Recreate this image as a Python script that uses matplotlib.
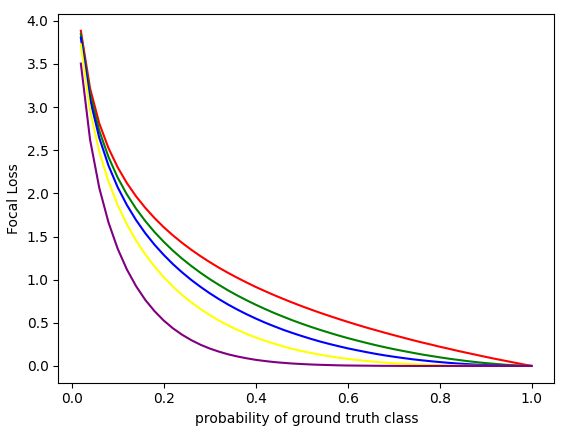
import matplotlib
matplotlib.use('Agg')
import matplotlib.pyplot as plt

# probability of ground truth class (0.02 .. 1.00)
P = [0.02, 0.04, 0.06, 0.08, 0.10, 0.12, 0.14, 0.16, 0.18, 0.20,
     0.22, 0.24, 0.26, 0.28, 0.30, 0.32, 0.34, 0.36, 0.38, 0.40,
     0.42, 0.44, 0.46, 0.48, 0.50, 0.52, 0.54, 0.56, 0.58, 0.60,
     0.62, 0.64, 0.66, 0.68, 0.70, 0.72, 0.74, 0.76, 0.78, 0.80,
     0.82, 0.84, 0.86, 0.88, 0.90, 0.92, 0.94, 0.96, 0.98, 1.00]

# loss curves
RED = [3.885, 3.219, 2.813, 2.526, 2.303, 2.120, 1.966, 1.833, 1.715, 1.609,
       1.514, 1.427, 1.347, 1.273, 1.204, 1.139, 1.079, 1.022, 0.968, 0.916,
       0.868, 0.821, 0.777, 0.734, 0.693, 0.654, 0.616, 0.580, 0.545, 0.511,
       0.478, 0.446, 0.416, 0.386, 0.357, 0.329, 0.301, 0.274, 0.249, 0.223,
       0.199, 0.174, 0.151, 0.128, 0.105, 0.083, 0.062, 0.041, 0.020, 0.0]

GREEN = [3.845, 3.154, 2.728, 2.423, 2.184, 1.989, 1.823, 1.680, 1.553, 1.440,
         1.337, 1.244, 1.159, 1.080, 1.007, 0.940, 0.876, 0.817, 0.762, 0.710,
         0.661, 0.614, 0.571, 0.529, 0.490, 0.453, 0.418, 0.385, 0.353, 0.323,
         0.295, 0.268, 0.242, 0.218, 0.195, 0.174, 0.154, 0.134, 0.117, 0.100,
         0.084, 0.070, 0.056, 0.044, 0.033, 0.024, 0.015, 0.008, 0.003, 0.0]

BLUE = [3.805, 3.090, 2.645, 2.324, 2.072, 1.866, 1.691, 1.539, 1.406, 1.288,
        1.181, 1.085, 0.997, 0.917, 0.843, 0.775, 0.712, 0.654, 0.600, 0.550,
        0.503, 0.460, 0.419, 0.382, 0.347, 0.314, 0.283, 0.255, 0.229, 0.204,
        0.182, 0.161, 0.141, 0.123, 0.107, 0.092, 0.078, 0.066, 0.055, 0.045,
        0.036, 0.028, 0.021, 0.015, 0.011, 0.007, 0.004, 0.002, 0.0004, 0.0]

YELLOW = [3.727, 2.966, 2.486, 2.138, 1.865, 1.642, 1.454, 1.293, 1.153, 1.030,
          0.921, 0.822, 0.738, 0.660, 0.590, 0.527, 0.470, 0.419, 0.372, 0.330,
          0.292, 0.258, 0.226, 0.198, 0.173, 0.151, 0.130, 0.112, 0.096, 0.082,
          0.069, 0.058, 0.048, 0.039, 0.032, 0.026, 0.020, 0.016, 0.012, 0.009,
          0.006, 0.004, 0.003, 0.002, 0.001, 0.0, 0.0, 0.0, 0.0, 0.0]

PURPLE = [3.505, 2.625, 2.065, 1.665, 1.360, 1.119, 0.925, 0.766, 0.636, 0.527,
          0.437, 0.362, 0.299, 0.246, 0.202, 0.166, 0.135, 0.110, 0.089, 0.071,
          0.057, 0.045, 0.036, 0.028, 0.022, 0.017, 0.013, 0.010, 0.007, 0.005,
          0.004, 0.003, 0.002, 0.001, 0.001, 0.0, 0.0, 0.0, 0.0, 0.0,
          0.0, 0.0, 0.0, 0.0, 0.0, 0.0, 0.0, 0.0, 0.0, 0.0]

SERIES = [(RED, 'red'), (GREEN, 'green'), (BLUE, 'blue'),
          (YELLOW, 'yellow'), (PURPLE, 'purple')]


def main():
    fig, ax = plt.subplots(figsize=(5.66, 4.34), dpi=100)
    for vals, color in SERIES:
        ax.plot(P, vals, color=color)
    ax.set_xlabel('probability of ground truth class')
    ax.set_ylabel('Focal Loss')
    fig.subplots_adjust(left=0.103, right=0.9793, top=0.9677, bottom=0.1182)
    fig.savefig('out.png')
    plt.close(fig)


if __name__ == '__main__':
    main()
